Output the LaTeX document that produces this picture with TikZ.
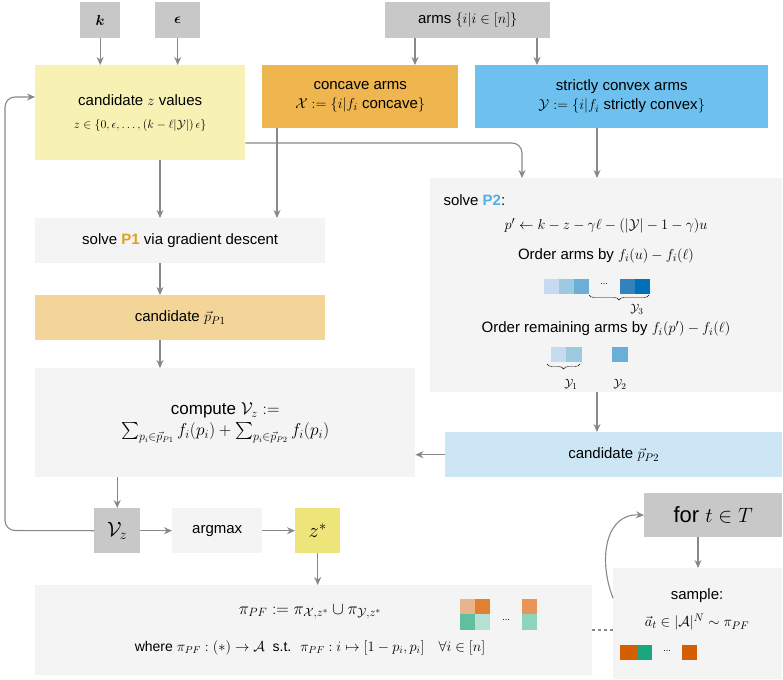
\documentclass[tikz,border=0pt]{standalone}
\usepackage{fontspec}
\setmainfont{Liberation Sans}
\usepackage{amsmath,amssymb,bm}
\usetikzlibrary{arrows.meta,decorations.pathreplacing}
\definecolor{ag}{HTML}{888888}
\definecolor{gbox}{HTML}{C8C8C8}
\definecolor{lbox}{HTML}{F4F4F4}
\definecolor{yel}{HTML}{F8F1B4}
\definecolor{ora}{HTML}{EFB64F}
\definecolor{blu}{HTML}{6EC1EE}
\definecolor{ora2}{HTML}{F3D599}
\definecolor{blu2}{HTML}{CCE6F6}
\definecolor{zst}{HTML}{EDE57A}
\definecolor{pone}{HTML}{E0A020}
\definecolor{ptwo}{HTML}{4FB0E8}
\begin{document}
\begin{tikzpicture}[x=1pt,y=-1pt,
  bx/.style={anchor=north west,inner sep=2pt,align=center,font=\fontsize{15}{19}\selectfont},
  arr/.style={draw=ag,line width=1.1pt,-{Stealth[length=8pt,width=7pt]}},
  sq/.style={draw=none}]
\useasboundingbox (0,0) rectangle (783,679);
\node[bx,fill=gbox,minimum width=40,minimum height=36] (k) at (80,2) {$\bm{k}$};
\node[bx,fill=gbox,minimum width=45,minimum height=36] (eps) at (155,2) {$\bm{\epsilon}$};
\node[bx,fill=gbox,minimum width=165,minimum height=36] (arms) at (385,2) {arms $\{i|i\in[n]\}$};
\node[bx,fill=yel,minimum width=210,minimum height=95] (candz) at (35,65) {candidate $z$ values\\[4pt]{\fontsize{12}{14}\selectfont$z\in\{0,\epsilon,\dots,(k-\ell|\mathcal{Y}|)\,\epsilon\}$}};
\node[bx,fill=ora,minimum width=196,minimum height=63] (conc) at (262,65) {concave arms\\$\mathcal{X}:=\{i|f_i\ \text{concave}\}$};
\node[bx,fill=blu,minimum width=293,minimum height=63] (conv) at (475,65) {strictly convex arms\\$\mathcal{Y}:=\{i|f_i\ \text{strictly convex}\}$};
\node[bx,fill=lbox,minimum width=352,minimum height=214] (p2) at (430,178) {};
\node[anchor=west,font=\fontsize{15}{19}\selectfont] at (440,200) {solve \textcolor{ptwo}{\textbf{P2}}:};
\node[font=\fontsize{15}{19}\selectfont] at (606,226) {$p'\leftarrow k-z-\gamma\ell-(|\mathcal{Y}|-1-\gamma)u$};
\node[font=\fontsize{15}{19}\selectfont] at (606,256) {Order arms by $f_i(u)-f_i(\ell)$};
\node[font=\fontsize{15}{19}\selectfont] at (606,329) {Order remaining arms by $f_i(p')-f_i(\ell)$};
\fill[color={rgb,255:red,198;green,219;blue,239}] (544,279) rectangle (559,294);
\fill[color={rgb,255:red,158;green,202;blue,225}] (559,279) rectangle (574,294);
\fill[color={rgb,255:red,107;green,174;blue,214}] (574,279) rectangle (589,294);
\node[font=\small] at (604,284) {...};
\fill[color={rgb,255:red,49;green,130;blue,189}] (620,279) rectangle (635,294);
\fill[color={rgb,255:red,0;green,112;blue,184}] (635,279) rectangle (650,294);
\draw[decorate,decoration={brace,mirror,amplitude=5pt}] (589,295) -- (649,295);
\node[font=\fontsize{13}{15}\selectfont] at (637,309) {$\mathcal{Y}_3$};
\fill[color={rgb,255:red,198;green,219;blue,239}] (551,347) rectangle (566,362);
\fill[color={rgb,255:red,158;green,202;blue,225}] (566,347) rectangle (582,362);
\fill[color={rgb,255:red,107;green,174;blue,214}] (612,347) rectangle (628,362);
\draw[decorate,decoration={brace,mirror,amplitude=5pt}] (547,364) -- (580,364);
\node[font=\fontsize{13}{15}\selectfont] at (571,384) {$\mathcal{Y}_1$};
\node[font=\fontsize{13}{15}\selectfont] at (620,384) {$\mathcal{Y}_2$};
\node[bx,fill=lbox,minimum width=290,minimum height=45] (p1) at (35,218) {solve \textcolor{pone}{\textbf{P1}} via gradient descent};
\node[bx,fill=ora2,minimum width=290,minimum height=45] (cp1) at (35,295) {candidate $\vec{p}_{P1}$};
\node[bx,fill=lbox,minimum width=380,minimum height=109,font=\fontsize{17}{21}\selectfont] (comp) at (35,368) {compute $\mathcal{V}_z:=$\\$\sum_{p_i\in\vec{p}_{P1}}f_i(p_i)+\sum_{p_i\in\vec{p}_{P2}}f_i(p_i)$};
\node[bx,fill=blu2,minimum width=337,minimum height=45] (cp2) at (445,432) {candidate $\vec{p}_{P2}$};
\node[bx,fill=gbox,minimum width=46,minimum height=45,font=\fontsize{22}{24}\selectfont] (vz) at (94,508) {$\mathcal{V}_z$};
\node[bx,fill=lbox,minimum width=90,minimum height=45] (argm) at (172,508) {argmax};
\node[bx,fill=zst,minimum width=45,minimum height=45,font=\fontsize{20}{22}\selectfont] (zs) at (295,508) {$z^*$};
\node[bx,fill=lbox,minimum width=557,minimum height=90] (pi) at (35,585) {};
\node[font=\fontsize{18}{20}\selectfont] at (310,612) {$\pi_{PF}:=\pi_{\mathcal{X},z^*}\cup\pi_{\mathcal{Y},z^*}$};
\node[font=\fontsize{14}{16}\selectfont] at (310,648) {$\text{where }\pi_{PF}:(*)\to\mathcal{A}\ \text{ s.t. }\ \pi_{PF}:i\mapsto[1-p_i,p_i]\quad\forall i\in[n]$};
\fill[color={rgb,255:red,232;green,180;blue,140}] (460,599) rectangle (475,614);
\fill[color={rgb,255:red,224;green,128;blue,48}] (475,599) rectangle (490,614);
\fill[color={rgb,255:red,95;green,191;blue,159}] (460,614) rectangle (475,630);
\fill[color={rgb,255:red,179;green,226;blue,212}] (475,614) rectangle (490,630);
\node[font=\small] at (506,620) {...};
\fill[color={rgb,255:red,232;green,149;blue,90}] (522,599) rectangle (537,614);
\fill[color={rgb,255:red,141;green,212;blue,191}] (522,614) rectangle (537,630);
\node[bx,fill=gbox,minimum width=138,minimum height=44,font=\fontsize{22}{24}\selectfont] (fort) at (644,493) {$\mathrm{for}\ t\in T$};
\node[bx,fill=lbox,minimum width=169,minimum height=111] (samp) at (613,568) {};
\node[font=\fontsize{15}{19}\selectfont] at (697,596) {sample:};
\node[font=\fontsize{15}{19}\selectfont] at (697,622) {$\vec{a}_t\in|\mathcal{A}|^N\sim\pi_{PF}$};
\fill[color={rgb,255:red,211;green,95;blue,0}] (620,645) rectangle (637,660);
\fill[color={rgb,255:red,26;green,166;blue,127}] (637,645) rectangle (652,660);
\node[font=\small] at (667,651) {...};
\fill[color={rgb,255:red,211;green,95;blue,0}] (682,645) rectangle (697,660);
% connectors
\draw[arr] (k) -- (candz.north -| k);
\draw[arr] (eps) -- (candz.north -| eps);
\draw[arr] (arms.south -| 415,0) -- (conc.north -| 415,0);
\draw[arr] (arms.south -| 537,0) -- (conv.north -| 537,0);
\draw[arr] (candz.south -| 160,0) -- (p1.north -| 160,0);
\draw[arr] (conc.south -| 277,0) -- (p1.north -| 277,0);
\draw[arr,rounded corners=10pt] (candz.east |- 0,143) -| (p2.north -| 522,0);
\draw[arr] (conv.south -| 597,0) -- (p2.north -| 597,0);
\draw[arr] (p1.south -| 160,0) -- (cp1.north -| 160,0);
\draw[arr] (cp1.south -| 160,0) -- (comp.north -| 160,0);
\draw[arr] (p2.south -| 597,0) -- (cp2.north -| 597,0);
\draw[arr] (cp2.west) -- (comp.east |- cp2.west);
\draw[arr] (comp.south -| vz) -- (vz.north);
\draw[arr] (vz) -- (argm);
\draw[arr] (argm) -- (zs);
\draw[arr] (zs) -- (pi.north -| zs);
\draw[arr,rounded corners=10pt] (vz.west) -- (5,530.5) -- (5,97) -- (candz.west |- 0,97);
\draw[arr] (fort.south -| 698,0) -- (samp.north -| 698,0);
\draw[arr] (samp.west |- 0,598) .. controls (598,560) and (605,513) .. (fort.west);
\draw[ag,line width=1.1pt,dash pattern=on 3pt off 3pt] (pi.east |- 0,630) -- (samp.west |- 0,630);
\end{tikzpicture}
\end{document}
